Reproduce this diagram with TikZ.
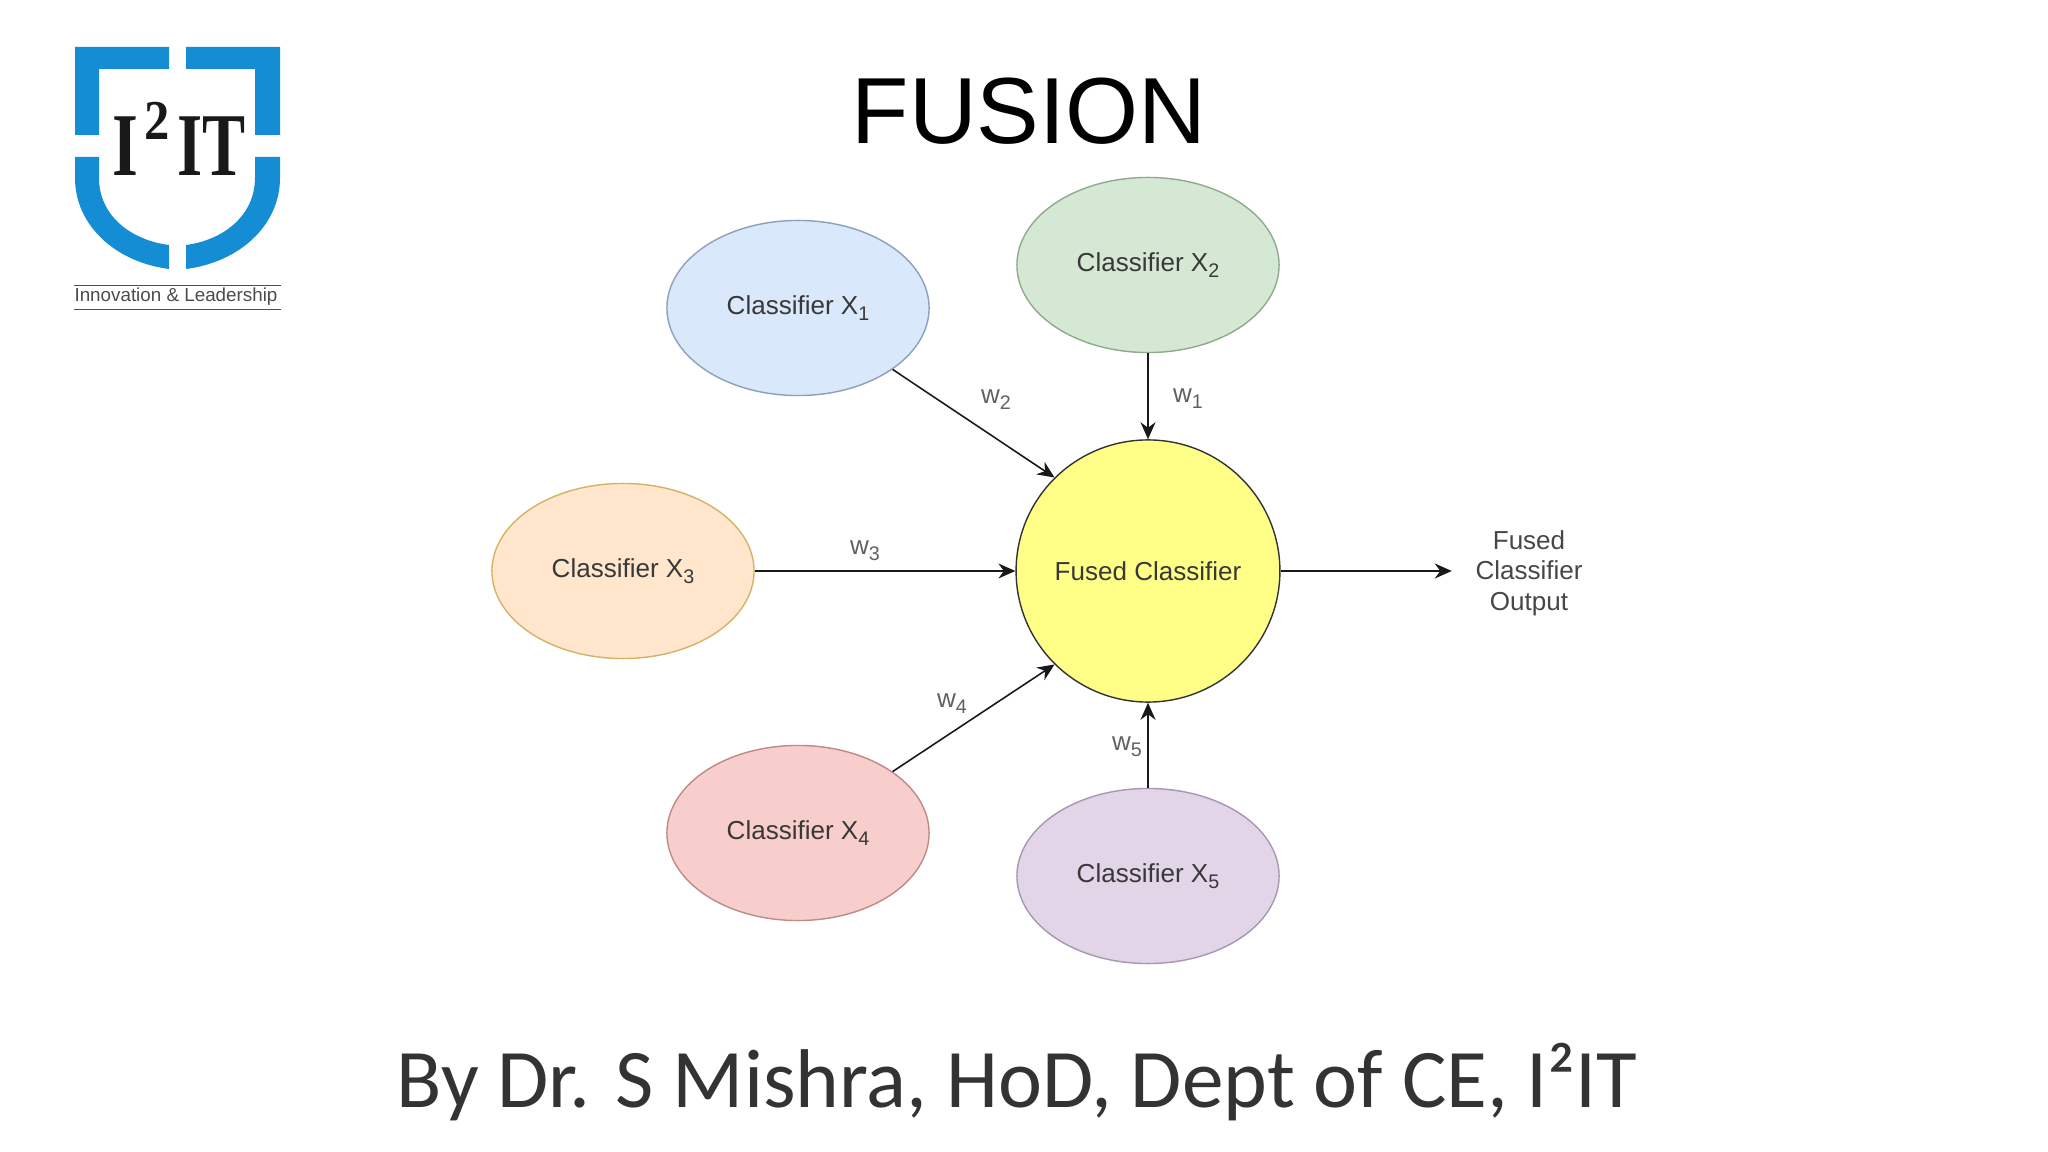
\documentclass[tikz,border=0pt]{standalone}
\usepackage{fontspec}
\setmainfont{Liberation Sans}
\newfontfamily\bodyfont{Carlito}
\newfontfamily\logofont{Liberation Serif}
\usetikzlibrary{shapes.geometric,arrows.meta}
\definecolor{logoblue}{HTML}{148DD4}
\definecolor{edgeA}{HTML}{8CA0BC}
\definecolor{edgeB}{HTML}{8FAA8F}
\definecolor{edgeC}{HTML}{D6B266}
\definecolor{edgeD}{HTML}{BE8A88}
\definecolor{edgeE}{HTML}{A896B2}
\definecolor{fillA}{HTML}{DAE8FC}
\definecolor{fillB}{HTML}{D5E8D4}
\definecolor{fillC}{HTML}{FFE6CC}
\definecolor{fillD}{HTML}{F8CECC}
\definecolor{fillE}{HTML}{E1D5E7}
\definecolor{fillF}{HTML}{FFFF88}
\newcommand{\subsc}[1]{\raisebox{-0.45ex}{\fontsize{5.6pt}{6pt}\selectfont #1}}
\tikzset{
  clf/.style={ellipse,draw=#1,line width=0.4pt,minimum width=2.62cm,minimum height=1.75cm,inner sep=0pt,font=\fontsize{7.4pt}{9pt}\selectfont,text=black!78},
  link/.style={-{Stealth[length=0.17cm,width=0.15cm]},line width=0.45pt,black!90},
  wt/.style={font=\fontsize{7.4pt}{9pt}\selectfont,text=black!62,inner sep=0pt},
  shield/.style={fill=logoblue,draw=none}
}
\begin{document}
\begin{tikzpicture}[x=0.01cm,y=-0.01cm]
\useasboundingbox (0,0) rectangle (2048,1152);
\fill[white] (0,0) rectangle (2048,1152);
% logo
\fill[shield] (75,47) -- (169,47) -- (169,69) -- (99,69) -- (99,135) -- (75,135) -- cycle;
\fill[shield] (186,47) -- (280,47) -- (280,135) -- (255,135) -- (255,69) -- (186,69) -- cycle;
\fill[shield] (75,157) -- (99,157) -- (99,178) .. controls (99,215) and (130,240) .. (169,245) -- (169,269) .. controls (115,262) and (75,225) .. (75,178) -- cycle;
\fill[shield] (280,157) -- (255,157) -- (255,178) .. controls (255,215) and (224,240) .. (186,245) -- (186,269) .. controls (240,262) and (280,225) .. (280,178) -- cycle;
\node[inner sep=0pt,text=black!90,xscale=0.74,font=\logofont\bfseries\fontsize{25.5pt}{26pt}\selectfont] (logoI) at (125.5,146) {I};
\node[inner sep=0pt,text=black!90,xscale=0.9,font=\logofont\bfseries\fontsize{16pt}{16pt}\selectfont] (logoTwo) at (157,121) {2};
\node[inner sep=0pt,text=black!90,xscale=0.72,font=\logofont\bfseries\fontsize{25.5pt}{26pt}\selectfont] (logoIT) at (211.5,146) {IT};
\node[inner sep=0pt,text=black!70,font=\fontsize{5.35pt}{6pt}\selectfont] (tag) at (176,297) {Innovation \& Leadership};
\draw[logoblue!70!black,line width=0.25pt] (74,285) -- (281,285);
\draw[logoblue!70!black,line width=0.25pt] (74,309) -- (281,309);
% title
\node[inner sep=0pt,font=\fontsize{26.7pt}{30pt}\selectfont] (title) at (1029,111) {FUSION};
% diagram
\node[clf=black!80,fill=fillF,minimum width=2.62cm,minimum height=2.62cm] (F) at (1148,571) {Fused Classifier};
\node[clf=edgeA,fill=fillA] (X1) at (798,308) {\raisebox{-0.2ex}{Classifier X\subsc{1}}};
\node[clf=edgeB,fill=fillB] (X2) at (1148,265) {\raisebox{-0.2ex}{Classifier X\subsc{2}}};
\node[clf=edgeC,fill=fillC] (X3) at (623,571) {\raisebox{-0.2ex}{Classifier X\subsc{3}}};
\node[clf=edgeD,fill=fillD] (X4) at (798,833) {\raisebox{-0.2ex}{Classifier X\subsc{4}}};
\node[clf=edgeE,fill=fillE] (X5) at (1148,876) {\raisebox{-0.2ex}{Classifier X\subsc{5}}};
\node[inner xsep=0.23cm,inner ysep=0pt,align=center,font=\fontsize{7.4pt}{8.7pt}\selectfont,text=black!72] (out) at (1529,573) {Fused\\Classifier\\Output};
\draw[link] (X2) -- (F);
\draw[link] (X1.-33.5) -- (F.135);
\draw[link] (X3) -- (F);
\draw[link] (X4.33.5) -- (F.225);
\draw[link] (X5) -- (F);
\draw[link] (F) -- (F -| out.west);
\node[wt] (w1) at (1188,399) {w\subsc{1}};
\node[wt] (w2) at (996,400) {w\subsc{2}};
\node[wt] (w3) at (865,551) {w\subsc{3}};
\node[wt] (w4) at (952,704) {w\subsc{4}};
\node[wt] (w5) at (1127,747) {w\subsc{5}};
% footer
\node[inner sep=0pt,text=black!80,font=\bodyfont\fontsize{23.7pt}{28pt}\selectfont] (foot) at (1017,1082) {By Dr. S Mishra, HoD, Dept of CE, I²IT};
\end{tikzpicture}
\end{document}
